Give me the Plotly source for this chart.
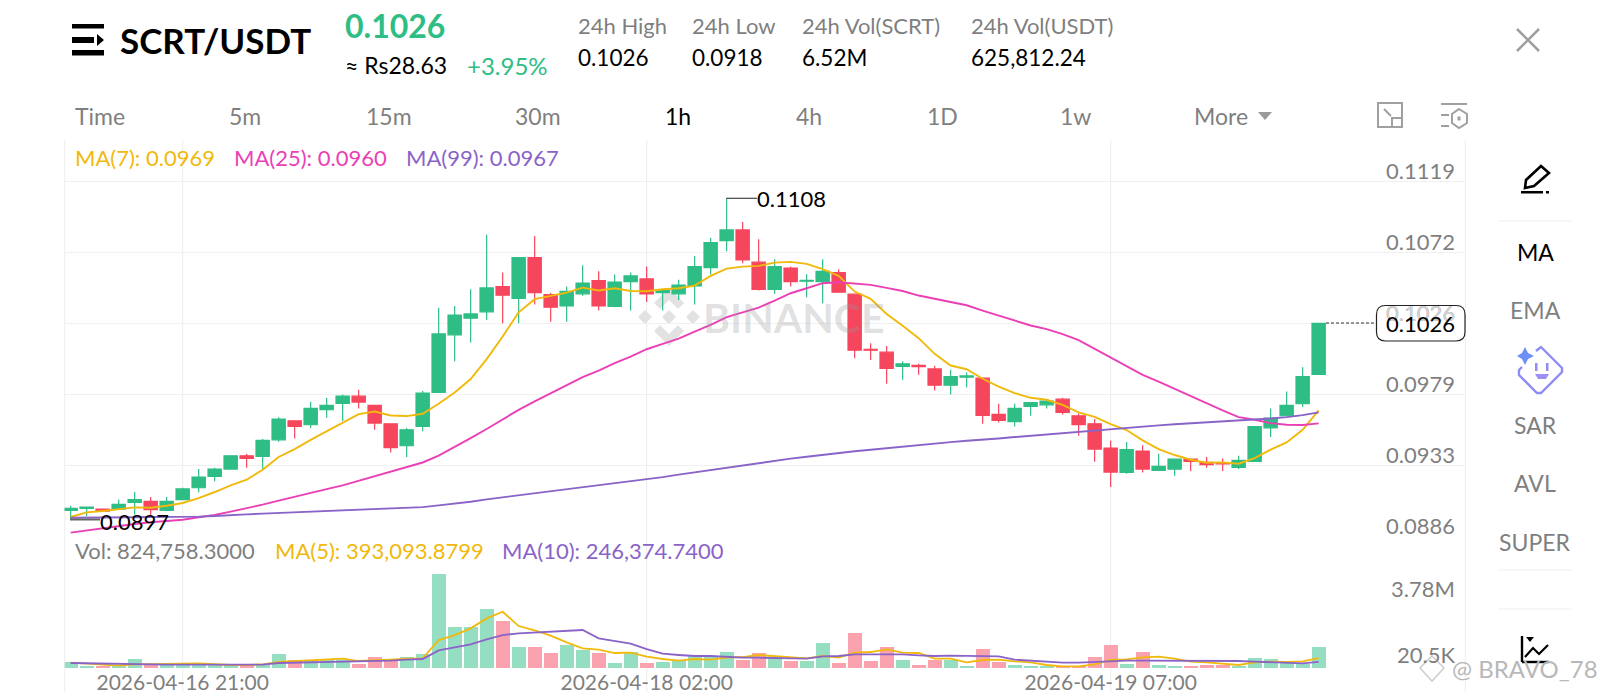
import pandas as pd
import plotly.graph_objects as go

W, H = 1600, 692
FONT = "Lato"
GREEN = "#2EBD85"
RED = "#F6465D"
YELLOW = "#F0B90B"
PINK = "#EB40B5"
PURPLE = "#8A63C9"
GREY = "#7F7F7F"
GRID = "#F0F0F0"

# hourly candles
times = pd.date_range("2026-04-16 14:00", periods=79, freq="h")

opens = [.09030,.09044,.09039,.09039,.09083,.09090,.09030,.09101,.09179,.09254,.09302,.09389,.09385,.09494,.09619,.09593,
         .09693,.09733,.09781,.09720,.09599,.09455,.09582,.09805,.10184,.10293,.10335,.10501,.10424,.10691,.10448,.10374,
         .10453,.10540,.10370,.10534,.10551,.10461,.10453,.10505,.10626,.10803,.10873,.10661,.10483,.10623,.10536,.10534,
         .10593,.10451,.10089,.10070,.09976,.09984,.09960,.09853,.09906,.09899,.09661,.09613,.09713,.09724,.09761,.09652,
         .09599,.09440,.09280,.09420,.09293,.09302,.09367,.09346,.09343,.09313,.09352,.09573,.09652,.09731,.09923]
highs = [.09061,.09052,.09039,.09101,.09151,.09118,.09118,.09179,.09302,.09311,.09389,.09402,.09499,.09643,.09619,.09744,
         .09770,.09792,.09823,.09720,.09599,.09571,.09814,.10361,.10374,.10483,.10842,.10593,.10691,.10833,.10461,.10501,
         .10641,.10601,.10580,.10593,.10632,.10475,.10545,.10702,.10822,.11081,.10925,.10812,.10680,.10632,.10582,.10680,
         .10615,.10451,.10129,.10111,.10011,.09993,.09980,.09954,.09936,.09899,.09731,.09731,.09739,.09753,.09770,.09669,
         .09630,.09490,.09479,.09459,.09402,.09372,.09367,.09381,.09372,.09389,.09580,.09700,.09812,.09971,.10260]
lows = [.08970,.08991,.09022,.09035,.09002,.08991,.09030,.09101,.09149,.09221,.09302,.09311,.09302,.09481,.09503,.09571,
        .09639,.09617,.09700,.09560,.09411,.09381,.09551,.09805,.10011,.10133,.10282,.10260,.10260,.10383,.10269,.10269,
        .10440,.10343,.10365,.10343,.10400,.10343,.10413,.10383,.10580,.10733,.10654,.10475,.10453,.10501,.10431,.10391,
        .10464,.10030,.10019,.09862,.09888,.09921,.09818,.09792,.09840,.09599,.09608,.09582,.09652,.09700,.09661,.09521,
        .09350,.09184,.09271,.09280,.09293,.09258,.09289,.09311,.09289,.09302,.09352,.09512,.09652,.09709,.09923]
closes = [.09044,.09052,.09026,.09070,.09101,.09035,.09090,.09171,.09249,.09302,.09389,.09372,.09490,.09630,.09582,.09700,
          .09720,.09781,.09742,.09604,.09442,.09560,.09801,.10190,.10313,.10321,.10492,.10444,.10691,.10461,.10365,.10470,
          .10523,.10374,.10531,.10571,.10453,.10475,.10510,.10632,.10790,.10873,.10676,.10483,.10632,.10534,.10542,.10601,
          .10464,.10083,.10083,.09963,.09993,.09974,.09853,.09910,.09914,.09654,.09621,.09700,.09739,.09748,.09674,.09593,
          .09433,.09282,.09429,.09302,.09319,.09367,.09352,.09330,.09335,.09359,.09580,.09637,.09720,.09910,.10260]

ma7 = [.08987,.09017,.09026,.09039,.09050,.09048,.09061,.09079,.09111,.09151,.09195,.09232,.09297,.09381,.09433,.09494,
       .09549,.09608,.09663,.09680,.09654,.09650,.09665,.09731,.09805,.09893,.10024,.10173,.10332,.10418,.10437,.10461,
       .10494,.10475,.10490,.10472,.10470,.10483,.10490,.10507,.10571,.10619,.10632,.10637,.10658,.10663,.10650,.10615,
       .10571,.10468,.10420,.10321,.10243,.10162,.10059,.09982,.09958,.09895,.09844,.09801,.09770,.09757,.09724,.09674,
       .09645,.09597,.09558,.09490,.09433,.09394,.09363,.09343,.09346,.09337,.09374,.09429,.09477,.09560,.09687]
ma25 = [.08884,.08899,.08915,.08930,.08941,.08952,.08960,.08969,.08985,.09000,.09022,.09044,.09068,.09094,.09120,.09149,
        .09170,.09195,.09225,.09255,.09280,.09312,.09345,.09390,.09445,.09505,.09565,.09626,.09691,.09746,.09801,.09855,
        .09906,.09949,.09998,.10041,.10089,.10124,.10159,.10205,.10249,.10300,.10330,.10363,.10409,.10457,.10490,.10523,
        .10529,.10521,.10512,.10492,.10472,.10442,.10420,.10402,.10378,.10343,.10310,.10275,.10245,.10221,.10188,.10149,
        .10092,.10030,.09974,.09921,.09877,.09829,.09779,.09731,.09687,.09643,.09626,.09604,.09593,.09591,.09602]
ma99 = [.08982,.08982,.08985,.08985,.08985,.08987,.08987,.08989,.08989,.08993,.09000,.09004,.09009,.09013,.09017,.09022,
        .09026,.09030,.09037,.09041,.09044,.09047,.09052,.09063,.09074,.09087,.09103,.09116,.09131,.09144,.09157,.09171,
        .09184,.09197,.09210,.09223,.09236,.09249,.09265,.09280,.09297,.09313,.09328,.09343,.09356,.09370,.09383,.09396,
        .09408,.09419,.09429,.09440,.09451,.09459,.09468,.09479,.09488,.09494,.09503,.09512,.09521,.09530,.09539,.09548,
        .09557,.09566,.09574,.09582,.09589,.09596,.09602,.09606,.09613,.09619,.09626,.09634,.09643,.09656,.09674]

# volume, in millions
volumes = [.228,.067,.040,.067,.348,.121,.147,.147,.161,.121,.121,.107,.121,.563,.322,.295,
           .308,.308,.147,.415,.362,.442,.536,3.78,1.648,1.621,2.358,1.889,.844,.844,.576,.911,
           .710,.576,.201,.616,.174,.228,.255,.456,.442,.616,.295,.576,.415,.255,.281,.992,
           .174,1.407,.268,.817,.308,.121,.295,.322,.067,.764,.241,.107,.040,.067,.040,.067,
           .442,.925,.147,.630,.107,.080,.040,.121,.121,.067,.389,.362,.174,.147,.8248]
vol_ma5 = [.214,.174,.134,.094,.147,.147,.147,.174,.188,.147,.121,.121,.147,.241,.281,.308,
           .348,.375,.281,.295,.335,.375,.389,1.126,1.327,1.595,1.997,2.265,1.688,1.514,1.300,1.032,
           .791,.737,.603,.616,.456,.362,.295,.362,.335,.415,.442,.523,.482,.429,.389,.482,
           .415,.616,.643,.750,.616,.603,.375,.375,.228,.322,.335,.268,.228,.121,.067,.067,
           .147,.322,.348,.429,.456,.375,.255,.228,.188,.121,.228,.255,.241,.268,.393]
vol_ma10 = [.201,.188,.174,.147,.161,.147,.134,.134,.134,.121,.121,.121,.134,.201,.214,.228,
            .241,.255,.255,.281,.295,.335,.362,.710,.817,.951,1.152,1.327,1.394,1.434,1.474,1.514,
            1.528,1.193,1.072,.978,.764,.576,.523,.482,.482,.442,.415,.415,.415,.389,.375,.469,
            .482,.549,.549,.549,.549,.509,.482,.496,.482,.469,.469,.335,.295,.241,.214,.214,
            .241,.281,.295,.295,.295,.281,.268,.281,.281,.281,.255,.241,.228,.188,.246]

price_ticks = [.1119, .10724, .10258, .09792, .09326, .0886]
price_labels = ["0.1119", "0.1072", "0.1026", "0.0979", "0.0933", "0.0886"]
time_labels = ["2026-04-16 21:00", "2026-04-18 02:00", "2026-04-19 07:00"]
time_ticks = [times[7], times[36], times[65]]


def px(x):
    return x / W


def py(y):
    return 1 - y / H


def path(points, close=True):
    s = "M " + " L ".join(f"{px(a):.5f},{py(b):.5f}" for a, b in points)
    return s + " Z" if close else s


shapes = []
annots = []


def text(x, y, s, size=22, color="#000000", anchor="left", bold=False, family=FONT):
    annots.append(dict(x=px(x), y=py(y), xref="paper", yref="paper", text=f"<b>{s}</b>" if bold else s,
                       showarrow=False, xanchor=anchor, yanchor="middle",
                       font=dict(family=family, size=size, color=color)))


def rect(x0, y0, x1, y1, fill="#000000", line=None, lw=0, layer="above"):
    shapes.append(dict(type="rect", xref="paper", yref="paper", x0=px(x0), x1=px(x1), y0=py(y0), y1=py(y1),
                       fillcolor=fill, line=dict(color=line or fill, width=lw), layer=layer))


def line(x0, y0, x1, y1, color="#000000", lw=1.0, dash="solid", layer="above"):
    shapes.append(dict(type="line", xref="paper", yref="paper", x0=px(x0), x1=px(x1), y0=py(y0), y1=py(y1),
                       line=dict(color=color, width=lw, dash=dash), layer=layer))


def poly(points, fill=None, color=None, lw=0, close=True, layer="above"):
    shapes.append(dict(type="path", xref="paper", yref="paper", path=path(points, close),
                       fillcolor=fill or "rgba(0,0,0,0)", line=dict(color=color or "rgba(0,0,0,0)", width=lw),
                       layer=layer))


def round_box(x0, y0, x1, y1, r, fill, color, lw):
    p = lambda a, b: f"{px(a):.5f},{py(b):.5f}"
    d = (f"M {p(x0 + r, y0)} L {p(x1 - r, y0)} Q {p(x1, y0)} {p(x1, y0 + r)} L {p(x1, y1 - r)} "
         f"Q {p(x1, y1)} {p(x1 - r, y1)} L {p(x0 + r, y1)} Q {p(x0, y1)} {p(x0, y1 - r)} "
         f"L {p(x0, y0 + r)} Q {p(x0, y0)} {p(x0 + r, y0)} Z")
    shapes.append(dict(type="path", xref="paper", yref="paper", path=d, fillcolor=fill,
                       line=dict(color=color, width=lw), layer="above"))


fig = go.Figure()

up = [c >= o for o, c in zip(opens, closes)]
bar_colors = ["#96DEC2" if u else "#FAA2AE" for u in up]

fig.add_trace(go.Bar(x=times, y=volumes, yaxis="y2", marker_color=bar_colors, marker_line_width=0, width=3150000))
fig.add_trace(go.Scatter(x=times, y=vol_ma5, yaxis="y2", mode="lines", line=dict(color=YELLOW, width=1.8)))
fig.add_trace(go.Scatter(x=times, y=vol_ma10, yaxis="y2", mode="lines", line=dict(color=PURPLE, width=1.8)))

fig.add_trace(go.Candlestick(x=times, open=opens, high=highs, low=lows, close=closes, whiskerwidth=0,
                             increasing=dict(line=dict(color=GREEN, width=1.2), fillcolor=GREEN),
                             decreasing=dict(line=dict(color=RED, width=1.2), fillcolor=RED)))
fig.add_trace(go.Scatter(x=times, y=ma7, mode="lines", line=dict(color=YELLOW, width=1.9)))
fig.add_trace(go.Scatter(x=times, y=ma25, mode="lines", line=dict(color=PINK, width=1.9)))
fig.add_trace(go.Scatter(x=times, y=ma99, mode="lines", line=dict(color=PURPLE, width=1.9)))

# vertical grid runs down past the time labels
for t in time_ticks:
    shapes.append(dict(type="line", xref="x", yref="paper", x0=t, x1=t, y0=0, y1=py(140),
                       line=dict(color=GRID, width=1.2), layer="below"))
line(64.7, 140, 64.7, 692, GRID, 1.2, layer="below")
line(1465.3, 140, 1465.3, 692, GRID, 1.2, layer="below")

# header
rect(72, 24, 104, 28.5)
rect(72, 37, 94, 43)
poly([(97, 34), (104, 40), (97, 46)], fill="#000000")
rect(72, 50, 104, 55.5)
text(118, 40, "SCRT/USDT", 35, bold=True)
text(343, 25, "0.1026", 32, GREEN, bold=True)
text(343, 65, "≈ Rs28.63", 23)
text(465, 65, "+3.95%", 24, GREEN)
for x, label, value in [(576, "24h High", "0.1026"), (690, "24h Low", "0.0918"),
                        (800, "24h Vol(SCRT)", "6.52M"), (969, "24h Vol(USDT)", "625,812.24")]:
    text(x, 25, label, 22, GREY)
    text(x, 57, value, 22.5)
line(1517, 29, 1539, 51, "#A0A0A0", 2.6)
line(1539, 29, 1517, 51, "#A0A0A0", 2.6)

# interval row
text(73, 116, "Time", 23, GREY)
for x, label in [(245, "5m"), (389, "15m"), (538, "30m"), (809, "4h"), (942, "1D"), (1075, "1w")]:
    text(x, 116, label, 23, GREY, "center")
text(678, 116, "1h", 23, "#000000", "center")
text(1221, 116, "More", 23, GREY, "center")
poly([(1258, 112), (1272, 112), (1265, 120)], fill="#9A9A9A")
rect(1378, 103, 1402, 127, "rgba(0,0,0,0)", "#A0A0A0", 2)
rect(1392, 118, 1402, 127, "#FFFFFF", "#A0A0A0", 2)
line(1384, 109, 1391, 116, "#A0A0A0", 2)
line(1441, 104, 1467, 104, "#A0A0A0", 2)
line(1441, 115, 1449, 115, "#A0A0A0", 2)
line(1441, 126, 1449, 126, "#A0A0A0", 2)
poly([(1459, 109), (1467, 114), (1467, 123), (1459, 128), (1452, 123), (1452, 114)], color="#A0A0A0", lw=2)
rect(1457.5, 116.5, 1460.5, 120.5, "#A0A0A0")

# legends
text(73, 158, "MA(7): 0.0969", 22, YELLOW)
text(232, 158, "MA(25): 0.0960", 22, PINK)
text(404, 158, "MA(99): 0.0967", 22, PURPLE)
text(73, 550, "Vol: 824,758.3000", 22, GREY)
text(273, 550, "MA(5): 393,093.8799", 22, YELLOW)
text(500, 550, "MA(10): 246,374.7400", 22, PURPLE)

# price labels sit above their grid line
for tick, label in zip(price_ticks, price_labels):
    annots.append(dict(x=px(1457), y=tick, xref="paper", yref="y", text=label, showarrow=False, xanchor="right",
                       yanchor="middle", yshift=11, font=dict(family=FONT, size=22, color=GREY)))
text(1457, 588, "3.78M", 22, GREY, "right")
text(1457, 654, "20.5K", 22, GREY, "right")

# last price tag
line(1326, 323, 1376, 323, "#333333", 1.1, "3px,2px")
round_box(1376.5, 305.5, 1465, 341, 9, "#FFFFFF", "#222222", 1.2)
text(1457, 312, "0.1026", 22, "#D4D4D4", "right")
text(1457, 323, "0.1026", 22, "#000000", "right")

# high / low markers
line(726.3, 198.3, 757, 198.3, "#444444", 1.2)
text(755, 198.3, "0.1108", 22)
line(70, 519.5, 100, 519.5, "#666666", 2)
text(98, 521, "0.0897", 22)

# watermark
cx, cy = 669, 317
for pts in [[(cx, cy - 7), (cx + 7, cy), (cx, cy + 7), (cx - 7, cy)],
            [(cx - 24, cy - 7), (cx - 17, cy), (cx - 24, cy + 7), (cx - 31, cy)],
            [(cx + 24, cy - 7), (cx + 31, cy), (cx + 24, cy + 7), (cx + 17, cy)],
            [(cx, cy - 29), (cx + 15, cy - 14), (cx + 9, cy - 8), (cx, cy - 17), (cx - 9, cy - 8), (cx - 15, cy - 14)],
            [(cx, cy + 29), (cx + 15, cy + 14), (cx + 9, cy + 8), (cx, cy + 17), (cx - 9, cy + 8), (cx - 15, cy + 14)]]:
    poly(pts, fill="#E2E2E2", layer="below")
text(701, 317, "BINANCE", 41, "rgba(150,150,150,0.28)", bold=True)

# side panel
poly([(1541, 166), (1549, 173), (1534, 186), (1525, 188), (1526, 180)], color="#000000", lw=2.6)
rect(1521, 191, 1543, 193.5, "#000000")
rect(1546, 191, 1549, 193.5, "#000000")
line(1498, 221, 1572, 221, GRID, 1.2)
text(1535, 252, "MA", 23, "#000000", "center")
text(1535, 310, "EMA", 23, GREY, "center")
poly([(1536, 351), (1541, 347), (1562, 368), (1562, 372), (1541, 393), (1537, 393), (1519, 375), (1519, 370), (1522, 367)],
     color="#8E8CF5", lw=2.4, close=False)
poly([(1525, 347), (1528, 353), (1534, 356), (1528, 359), (1525, 365), (1522, 359), (1517, 356), (1522, 353)], fill="#6E8FF7")
rect(1535, 363, 1537.5, 371, "#8E8CF5")
rect(1546, 363, 1548.5, 371, "#8E8CF5")
poly([(1535, 374), (1549, 374), (1546, 379), (1538, 379)], fill="#9C8FF5")
text(1535, 425, "SAR", 23, GREY, "center")
text(1535, 483, "AVL", 23, GREY, "center")
text(1534, 542, "SUPER", 23, GREY, "center")
line(1498, 570, 1572, 570, GRID, 1.2)
line(1498, 609, 1572, 609, GRID, 1.2)
line(1522, 636, 1522, 662, "#000000", 2.4)
line(1522, 662, 1549, 662, "#000000", 2.4)
poly([(1526, 637), (1534, 637), (1530, 642)], fill="#000000")
poly([(1525, 657), (1533, 648), (1539, 654), (1548, 645)], color="#000000", lw=2.2, close=False)

# photo credit
poly([(1432, 656), (1444, 668), (1432, 681), (1420, 668)], color="#CFCFCF", lw=1.6)
text(1450, 668, "@ BRAVO_78", 24, "#B8B8B8")

fig.update_layout(
    width=W, height=H, margin=dict(l=0, r=0, t=0, b=0, autoexpand=False),
    paper_bgcolor="white", plot_bgcolor="white",
    showlegend=False, hovermode=False, boxgap=0.17, boxgroupgap=0, bargap=0,
    shapes=shapes, annotations=annots,
    xaxis=dict(domain=[px(64.7), px(1465.3)], anchor="y2", type="date", automargin=False,
               range=["2026-04-16 13:37:37", "2026-04-20 05:10:00"], rangeslider=dict(visible=False),
               showgrid=False, zeroline=False, showline=False,
               tickmode="array", tickvals=time_ticks, ticktext=time_labels,
               ticks="", ticklen=0,
               tickfont=dict(family=FONT, size=21, color=GREY)),
    yaxis=dict(domain=[py(536.3), py(140)], range=[.0886, .11464], side="right", automargin=False,
               tickmode="array", tickvals=price_ticks, showticklabels=False,
               gridcolor=GRID, gridwidth=1.2, zeroline=False, showline=False),
    yaxis2=dict(domain=[py(668), py(536.3)], range=[0, 5.3], side="right", automargin=False,
                tickmode="array", tickvals=[0], showticklabels=False,
                gridcolor=GRID, gridwidth=1.2, zeroline=False, showline=False),
)

fig.write_html("out.html", post_script="document.body.style.margin='0';", config=dict(displayModeBar=False))
